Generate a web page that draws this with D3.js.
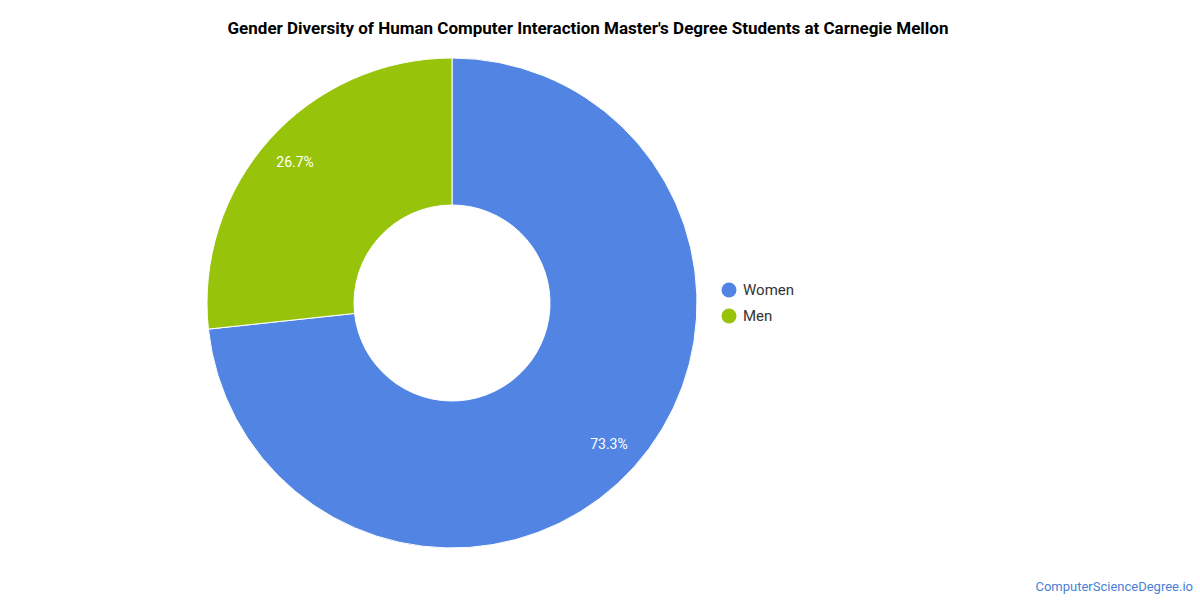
<!DOCTYPE html>
<html>
<head>
<meta charset="utf-8">
<script src="https://cdn.jsdelivr.net/npm/d3@7"></script>
<style>
  body { margin: 0; background: #fff; }
  text { font-family: Roboto, sans-serif; }
</style>
</head>
<body>
<div id="chart"></div>
<script>
// Chart data
const categories = ["Women", "Men"];
const values = [73.3, 26.7];
const colors = ["#5285e3", "#97c40a"];

const width = 1200, height = 600;
const cx = 452, cy = 303, outerR = 245, innerR = 98, labelR = 211;

const svg = d3.select("#chart").append("svg")
    .attr("width", width)
    .attr("height", height);

// Title
svg.append("text")
    .attr("x", 588).attr("y", 34)
    .attr("text-anchor", "middle")
    .attr("font-size", 17).attr("font-weight", "bold")
    .attr("fill", "#000")
    .text("Gender Diversity of Human Computer Interaction Master's Degree Students at Carnegie Mellon");

const color = d3.scaleOrdinal().domain(categories).range(colors);
const pie = d3.pie().sort(null).value(d => d.value);
const data = categories.map((c, i) => ({ name: c, value: values[i] }));
const arc = d3.arc().innerRadius(innerR).outerRadius(outerR);
const labelArc = d3.arc().innerRadius(labelR).outerRadius(labelR);

const g = svg.append("g").attr("transform", `translate(${cx},${cy})`);

g.selectAll("path")
  .data(pie(data))
  .enter().append("path")
    .attr("d", arc)
    .attr("fill", d => color(d.data.name))
    .attr("stroke", "#fff")
    .attr("stroke-width", 1);

g.selectAll("text.lbl")
  .data(pie(data))
  .enter().append("text")
    .attr("class", "lbl")
    .attr("transform", d => `translate(${labelArc.centroid(d)})`)
    .attr("text-anchor", "middle")
    .attr("dy", "0.35em")
    .attr("font-size", 14)
    .attr("fill", "#fff")
    .text(d => d.data.value.toFixed(1) + "%");

// Legend
const legend = svg.append("g").attr("transform", "translate(729,290)");
const item = legend.selectAll("g")
  .data(categories)
  .enter().append("g")
    .attr("transform", (d, i) => `translate(0,${i * 26})`);
item.append("circle").attr("r", 7.5).attr("fill", d => color(d));
item.append("text")
    .attr("x", 14).attr("dy", "0.35em")
    .attr("font-size", 15).attr("fill", "#333")
    .text(d => d);

// Watermark
svg.append("text")
    .attr("x", 1193).attr("y", 591)
    .attr("text-anchor", "end")
    .attr("font-size", 13)
    .attr("fill", "#4a7fd6")
    .text("ComputerScienceDegree.io");
</script>
</body>
</html>
